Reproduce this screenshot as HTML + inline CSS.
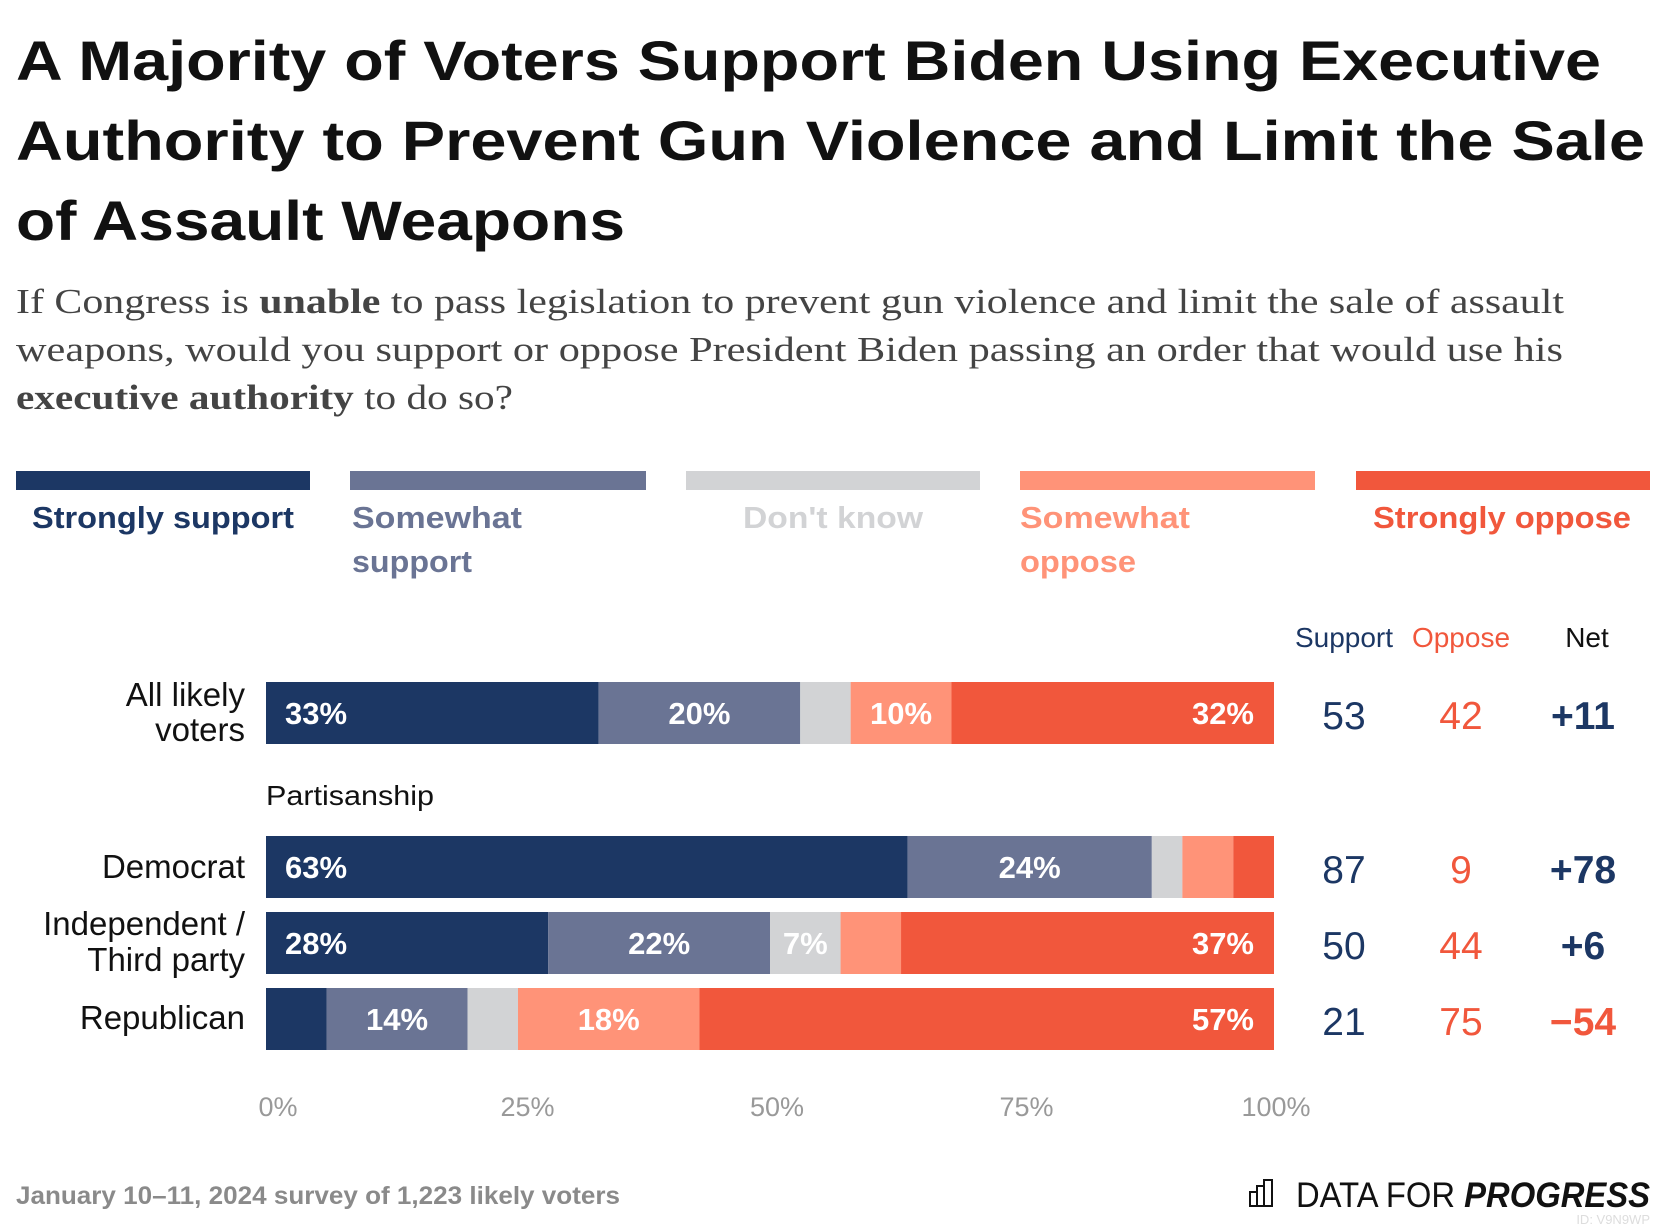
<!DOCTYPE html>
<html><head><meta charset="utf-8"><style>
html,body{margin:0;padding:0;background:#fff;}
svg{display:block;font-family:"Liberation Sans",sans-serif;}
</style></head><body>
<svg id="chart" width="1666" height="1228" viewBox="0 0 1666 1228" xmlns="http://www.w3.org/2000/svg">
<g font-weight="bold" font-size="56" fill="#111">
<text x="16" y="80" textLength="1585" lengthAdjust="spacingAndGlyphs">A Majority of Voters Support Biden Using Executive</text>
<text x="16" y="160" textLength="1629" lengthAdjust="spacingAndGlyphs">Authority to Prevent Gun Violence and Limit the Sale</text>
<text x="16" y="240" textLength="609" lengthAdjust="spacingAndGlyphs">of Assault Weapons</text>
</g>
<g font-family="Liberation Serif, serif" font-size="35" fill="#444">
<text x="16" y="313" textLength="1548" lengthAdjust="spacingAndGlyphs">If Congress is <tspan font-weight="bold">unable</tspan> to pass legislation to prevent gun violence and limit the sale of assault</text>
<text x="16" y="361" textLength="1547" lengthAdjust="spacingAndGlyphs">weapons, would you support or oppose President Biden passing an order that would use his</text>
<text x="16" y="409" textLength="497" lengthAdjust="spacingAndGlyphs"><tspan font-weight="bold">executive authority</tspan> to do so?</text>
</g>
<g id="legend"></g>
<g id="plot"></g>
<g>
<text x="16" y="1204" font-size="25" font-weight="bold" fill="#8a8a8a" textLength="604" lengthAdjust="spacingAndGlyphs">January 10–11, 2024 survey of 1,223 likely voters</text>
<g fill="none" stroke="#111" stroke-width="2">
<rect x="1250" y="1192" width="7" height="14"/><rect x="1257" y="1186" width="7" height="20"/><rect x="1264" y="1180" width="8" height="26"/>
</g>
<text x="1296" y="1207" font-size="35" fill="#111" textLength="354" lengthAdjust="spacingAndGlyphs">DATA FOR <tspan font-weight="bold" font-style="italic">PROGRESS</tspan></text>
<text x="1650" y="1224" text-anchor="end" font-size="13" fill="#ddd">ID: V9N9WP</text>
</g>
</svg>
<script>
const categories = ["All likely voters","Democrat","Independent / Third party","Republican"];
const strongSupport = [33,63,28,6];
const someSupport = [20,24,22,14];
const dontKnow = [5,3,7,5];
const someOppose = [10,5,6,18];
const strongOppose = [32,4,37,57];
const supportTotals = [53,87,50,21];
const opposeTotals = [42,9,44,75];
const netValues = ["+11","+78","+6","−54"];
const ticks = [0,25,50,75,100];
const tickLabels = ["0%","25%","50%","75%","100%"];
const legendLabels = [["Strongly support"],["Somewhat","support"],["Don't know"],["Somewhat","oppose"],["Strongly oppose"]];

const NS="http://www.w3.org/2000/svg";
const colors=["#1c3764","#6a7494","#d2d3d5","#ff9378","#f1573c"];
const series=[strongSupport,someSupport,dontKnow,someOppose,strongOppose];
const segNames=["strongly-support","somewhat-support","dont-know","somewhat-oppose","strongly-oppose"];
const X0=266,X1=1274;
const x=v=>X0+(X1-X0)*v/100;
const rowTop=[682,836,912,988], rowH=62;
const labelLines=[[["All likely",706],["voters",741]],[["Democrat",878]],[["Independent /",935],["Third party",971]],[["Republican",1029]]];
const plot=document.getElementById('plot'), legend=document.getElementById('legend');
function mk(tag,attrs,parent,txt){const e=document.createElementNS(NS,tag);for(const k in attrs)e.setAttribute(k,attrs[k]);if(txt!==undefined)e.textContent=txt;parent.appendChild(e);return e;}

const legX=[[16,310],[350,646],[686,980],[1020,1315],[1356,1650]];
const legTextX=[32,352,743,1020,1373];
const legW=[[262],[170,120],[180],[170,116],[258]];
legX.forEach((r,i)=>{
  const b=mk('rect',{x:r[0],y:471,width:r[1]-r[0],height:19,fill:colors[i]},legend);
  
  
  legendLabels[i].forEach((ln,j)=>{
    const t=mk('text',{x:legTextX[i],y:528+j*44,'font-size':31,'font-weight':'bold',fill:colors[i],textLength:legW[i][j],lengthAdjust:'spacingAndGlyphs'},legend,ln);
    
    
  });
});

[["Support",1344,"#1c3764"],["Oppose",1461,"#f1573c"],["Net",1587,"#111"]].forEach(h=>{
  const t=mk('text',{x:h[1],y:647,'font-size':28,fill:h[2],'text-anchor':'middle'},plot,h[0]);
  
  
});
const ps=mk('text',{x:266,y:805,'font-size':28,fill:'#111',textLength:168,lengthAdjust:'spacingAndGlyphs'},plot,"Partisanship");



categories.forEach((c,r)=>{
  labelLines[r].forEach(l=>{
    const t=mk('text',{x:245,y:l[1],'font-size':33,fill:'#111','text-anchor':'end'},plot,l[0]);
    
    
  });
  const vals=series.map(s=>s[r]);
  const sum=vals.reduce((a,b)=>a+b,0);
  let cum=0;
  vals.forEach((v,i)=>{
    const a=x(cum/sum*100), b=x((cum+v)/sum*100);
    const rect=mk('rect',{x:a,y:rowTop[r],width:b-a,height:rowH,fill:colors[i]},plot);
    
    
    if(v>=7){
      let tx,anchor;
      if(i===0){tx=a+19;anchor='start';}
      else if(i===4){tx=b-20;anchor='end';}
      else{tx=(a+b)/2;anchor='middle';}
      const t=mk('text',{x:tx,y:rowTop[r]+42,'font-size':31,'font-weight':'bold',fill:'#fff','text-anchor':anchor},plot,v+'%');
      
      
    }
    cum+=v;
  });
  const cy=rowTop[r]+47;
  const s=mk('text',{x:1344,y:cy,'font-size':39,fill:'#1c3764','text-anchor':'middle'},plot,supportTotals[r]);
  
  
  const o=mk('text',{x:1461,y:cy,'font-size':39,fill:'#f1573c','text-anchor':'middle'},plot,opposeTotals[r]);
  
  
  const n=mk('text',{x:1583,y:cy,'font-size':39,'font-weight':'bold',fill:netValues[r].startsWith('+')?'#1c3764':'#f1573c','text-anchor':'middle'},plot,netValues[r]);
  
  
});

ticks.forEach((v,i)=>{
  const t=mk('text',{x:x(v)+12-v*0.1,y:1116,'font-size':27,fill:'#999','text-anchor':'middle'},plot,tickLabels[i]);
  
  
});
</script>
</body></html>
